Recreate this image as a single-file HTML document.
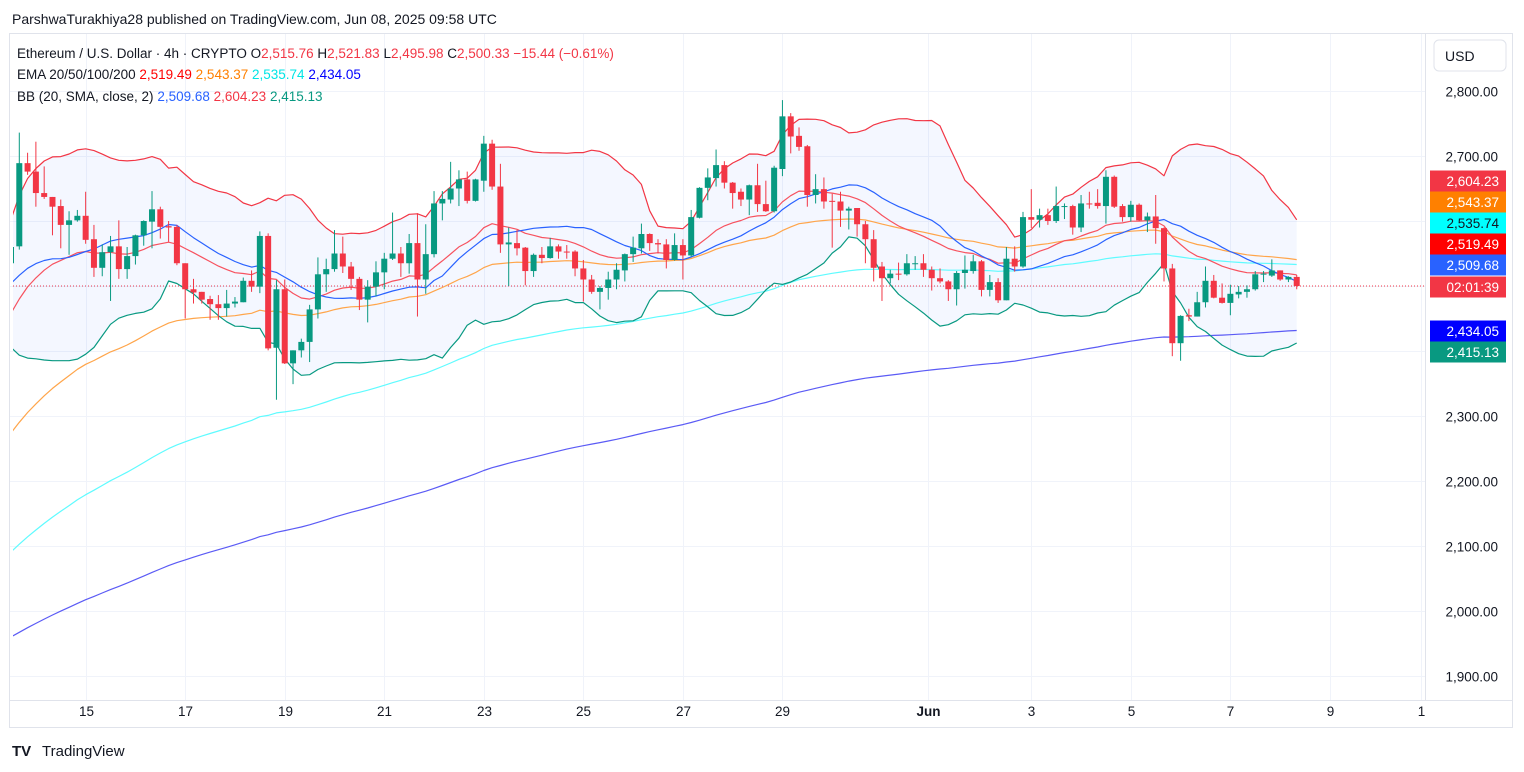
<!DOCTYPE html>
<html><head><meta charset="utf-8">
<style>
html,body{margin:0;padding:0;background:#fff;width:1524px;height:772px;overflow:hidden;font-family:"Liberation Sans",sans-serif;}
svg text{font-family:"Liberation Sans",sans-serif;}
</style></head>
<body>
<svg id="chart" width="1524" height="772" viewBox="0 0 1524 772" xmlns="http://www.w3.org/2000/svg">
  <text x="12" y="24" font-size="14" fill="#131722">ParshwaTurakhiya28 published on TradingView.com, Jun 08, 2025 09:58 UTC</text>
  <rect x="9.5" y="33.5" width="1503" height="694" fill="none" stroke="#e0e3eb"/>
  <g id="grid"></g>
  <g id="plot" clip-path="url(#clipP)"></g>
  <defs><clipPath id="clipP"><rect x="13" y="34" width="1412" height="666"/></clipPath></defs>
  <line x1="1425.5" y1="34" x2="1425.5" y2="700" stroke="#e0e3eb"/>
  <line x1="10" y1="700.5" x2="1512" y2="700.5" stroke="#e0e3eb"/>
  <g id="yaxis"></g>
  <g id="xaxis"></g>
  <g id="labels"></g>
  <g>
    <rect x="1434" y="40" width="72" height="31" rx="5" fill="#fff" stroke="#e0e3eb"/>
    <text x="1445" y="61" font-size="14" fill="#131722">USD</text>
  </g>
  <g font-size="13.5">
    <text x="17" y="58" fill="#131722">Ethereum / U.S. Dollar · 4h · CRYPTO  O<tspan fill="#f23645">2,515.76</tspan>  H<tspan fill="#f23645">2,521.83</tspan>  L<tspan fill="#f23645">2,495.98</tspan>  C<tspan fill="#f23645">2,500.33</tspan>  <tspan fill="#f23645">−15.44 (−0.61%)</tspan></text>
    <text x="17" y="79" fill="#131722">EMA 20/50/100/200  <tspan fill="#ff0000">2,519.49</tspan>  <tspan fill="#ff8000">2,543.37</tspan>  <tspan fill="#00e5e5">2,535.74</tspan>  <tspan fill="#0000ff">2,434.05</tspan></text>
    <text x="17" y="101" fill="#131722">BB (20, SMA, close, 2)  <tspan fill="#2962ff">2,509.68</tspan>  <tspan fill="#f23645">2,604.23</tspan>  <tspan fill="#089981">2,415.13</tspan></text>
  </g>
  <g>
    <text x="12" y="756" font-size="15" font-weight="bold" fill="#131722">TV</text>
    <text x="42" y="756" font-size="15" fill="#131722">TradingView</text>
  </g>
</svg>
<script>
const opens=[2535,2561,2689,2676,2643,2637,2623,2594,2601,2608,2572,2528,2552,2561,2526,2546,2578,2599,2618,2592,2591,2535,2495,2491,2480,2472,2466,2473,2475,2508,2499,2577,2405,2495,2381,2401,2414,2464,2518,2526,2550,2530,2511,2479,2499,2521,2542,2550,2535,2566,2510,2549,2627,2633,2650,2664,2631,2662,2719,2653,2564,2566,2559,2523,2548,2543,2561,2553,2553,2527,2510,2491,2497,2510,2524,2549,2558,2580,2566,2564,2540,2563,2547,2605,2651,2666,2686,2659,2645,2633,2655,2626,2615,2680,2761,2731,2715,2640,2649,2631,2630,2616,2620,2595,2572,2530,2512,2519,2518,2534,2535,2525,2512,2507,2495,2520,2523,2538,2494,2506,2478,2542,2530,2606,2602,2609,2600,2622,2623,2590,2627,2628,2623,2668,2623,2606,2625,2601,2607,2589,2527,2412,2455,2453,2475,2508,2482,2474,2487,2491,2495,2518,2516,2524,2510,2514];
const highs=[2580,2736,2705,2722,2684,2637,2633,2615,2617,2645,2594,2564,2577,2601,2560,2579,2601,2646,2622,2600,2594,2535,2511,2491,2485,2486,2494,2483,2513,2524,2584,2581,2509,2510,2401,2419,2471,2544,2542,2586,2576,2537,2514,2509,2538,2551,2613,2560,2580,2612,2595,2646,2646,2691,2678,2676,2665,2731,2725,2688,2590,2586,2560,2550,2560,2574,2564,2563,2555,2540,2517,2500,2522,2535,2550,2576,2596,2581,2572,2572,2581,2572,2617,2652,2681,2710,2692,2660,2650,2656,2688,2662,2685,2786,2766,2744,2717,2672,2667,2642,2645,2622,2620,2600,2586,2537,2525,2536,2549,2546,2549,2530,2527,2509,2523,2547,2548,2540,2517,2512,2560,2561,2614,2649,2619,2619,2653,2627,2625,2640,2645,2649,2678,2670,2626,2631,2627,2613,2640,2590,2534,2455,2465,2491,2530,2517,2504,2502,2500,2501,2523,2523,2541,2524,2515,2517];
const lows=[2530,2556,2671,2622,2634,2578,2558,2548,2599,2565,2514,2515,2477,2511,2511,2533,2562,2558,2573,2568,2532,2450,2473,2473,2448,2448,2453,2467,2475,2491,2489,2401,2325,2380,2349,2390,2383,2450,2491,2522,2520,2494,2463,2444,2484,2495,2540,2514,2519,2453,2488,2544,2601,2627,2623,2627,2630,2645,2648,2551,2500,2547,2501,2514,2535,2542,2542,2542,2515,2476,2488,2464,2479,2495,2507,2537,2550,2554,2550,2527,2539,2510,2545,2604,2632,2653,2650,2619,2623,2609,2614,2614,2613,2669,2704,2708,2622,2627,2619,2559,2591,2587,2576,2535,2507,2477,2504,2509,2516,2525,2514,2493,2504,2477,2470,2496,2519,2484,2484,2474,2478,2522,2528,2589,2590,2594,2597,2603,2579,2583,2619,2619,2596,2620,2599,2599,2600,2583,2565,2507,2392,2385,2446,2453,2467,2481,2473,2455,2481,2482,2493,2506,2514,2508,2506,2495];
const closes=[2560,2689,2676,2643,2637,2622,2594,2601,2608,2571,2528,2552,2561,2526,2546,2578,2600,2618,2591,2590,2535,2495,2490,2479,2472,2466,2473,2476,2508,2499,2577,2404,2495,2381,2401,2414,2464,2518,2526,2550,2530,2511,2479,2499,2521,2542,2550,2535,2566,2510,2549,2627,2634,2650,2664,2631,2664,2719,2653,2564,2567,2558,2523,2548,2543,2561,2553,2552,2527,2510,2491,2497,2510,2525,2549,2559,2580,2566,2564,2540,2563,2547,2606,2651,2667,2686,2659,2643,2633,2655,2626,2615,2682,2761,2730,2714,2640,2649,2630,2630,2616,2619,2595,2572,2528,2512,2519,2518,2535,2535,2525,2512,2507,2495,2520,2525,2538,2494,2506,2478,2542,2530,2606,2602,2609,2600,2623,2623,2590,2627,2626,2623,2668,2622,2606,2625,2601,2607,2589,2527,2412,2454,2453,2475,2508,2482,2474,2488,2491,2495,2518,2519,2524,2510,2514,2500];
const priorCloses=[2440,2460,2500,2540,2570,2590,2560,2520,2480,2450,2430,2440,2470,2510,2540,2560,2530,2480,2450];
const emaPeriods=[20,50,100,200];
const emaSeeds=[2458,2274,2091,1960];
const priceTicks=[1900,2000,2100,2200,2300,2400,2500,2600,2700,2800];
const dayTicks=["15","17","19","21","23","25","27","29","Jun","3","5","7","9","1"];
const dayTickHours=[36,84,132,180,228,276,324,372,442,492,540,588,636,680];
const lastValues=[2604.23,2543.37,2535.74,2519.49,2509.68,2500.33,2434.05,2415.13];
const lastLabels=["2,604.23","2,543.37","2,535.74","2,519.49","2,509.68","02:01:39","2,434.05","2,415.13"];

const NS="http://www.w3.org/2000/svg";
const X0=11, DX=8.295;
function xs(i){return X0+i*DX;}
function xh(h){return X0+(h/4)*DX;}
function ys(p){return 91+(2800-p)*0.65;}
function mk(tag,attrs,parent){const e=document.createElementNS(NS,tag);for(const k in attrs)e.setAttribute(k,attrs[k]);parent.appendChild(e);return e;}
const grid=document.getElementById('grid'),plot=document.getElementById('plot'),yax=document.getElementById('yaxis'),xax=document.getElementById('xaxis'),lab=document.getElementById('labels');

priceTicks.forEach(p=>{
  const y=Math.round(ys(p))+0.5;
  const l=mk('line',{x1:10,x2:1425,y1:y,y2:y,stroke:'#f0f3fa'},grid);
  
  
  const t=mk('text',{x:1498,y:y+5,'text-anchor':'end','font-size':'13.5',fill:'#131722'},yax);
  t.textContent=p.toLocaleString('en-US',{minimumFractionDigits:2});
  
  
});
dayTicks.forEach((d,k)=>{
  const x=Math.round(xh(dayTickHours[k]))+0.5;
  if(x<1424){
    const l=mk('line',{x1:x,x2:x,y1:34,y2:700,stroke:'#f0f3fa'},grid);
    
    
  }
  const tx=Math.min(x,1424);
  const t=mk('text',{x:tx,y:716,'text-anchor':'middle','font-size':'13.5',fill:'#131722','font-weight':d==='Jun'?'bold':'normal'},xax);
  t.textContent=d;
  
  
});

// Bollinger bands
const all=priorCloses.concat(closes);
const bbU=[],bbM=[],bbL=[];
for(let i=0;i<closes.length;i++){
  const w=all.slice(i,i+20);
  const m=w.reduce((a,b)=>a+b,0)/20;
  const sd=Math.sqrt(w.reduce((a,b)=>a+(b-m)*(b-m),0)/20);
  bbM.push(m);bbU.push(m+2*sd);bbL.push(m-2*sd);
}
let fillD='M'+bbU.map((v,i)=>xs(i).toFixed(1)+','+ys(v).toFixed(1)).join('L');
for(let i=closes.length-1;i>=0;i--)fillD+='L'+xs(i).toFixed(1)+','+ys(bbL[i]).toFixed(1);
const bf=mk('path',{d:fillD+'Z',fill:'#2962ff','fill-opacity':'0.05'},plot);


function line(arr,color,name,w){
  const p=mk('path',{d:'M'+arr.map((v,i)=>xs(i).toFixed(1)+','+ys(v).toFixed(1)).join('L'),fill:'none',stroke:color,'stroke-width':w||1.2,'stroke-linejoin':'round'},plot);
  
  
}
// EMAs
const emaColors=['#f7525f','#ffa54a','#5ffbff','#5b5bf5'];
const emaNames=['ema-20','ema-50','ema-100','ema-200'];
const emaLines=emaPeriods.map((n,k)=>{
  const a=2/(n+1);let v=emaSeeds[k];const out=[v];
  for(let i=1;i<closes.length;i++){v=v+a*(closes[i]-v);out.push(v);}
  return out;
});
[3,2,1,0].forEach(k=>line(emaLines[k],emaColors[k],emaNames[k]));
line(bbU,'#f23645','bb-upper');
line(bbM,'#2962ff','bb-basis');
line(bbL,'#089981','bb-lower');

// candles
for(let i=0;i<closes.length;i++){
  const up=closes[i]>=opens[i];
  const c=up?'#089981':'#f23645';
  const x=xs(i);
  const g=mk('g',{},plot);
  
  
  mk('line',{x1:x,x2:x,y1:ys(highs[i]),y2:ys(lows[i]),stroke:c,'stroke-width':1},g);
  const top=ys(Math.max(opens[i],closes[i])),bot=ys(Math.min(opens[i],closes[i]));
  mk('rect',{x:x-3,y:top,width:6,height:Math.max(1,bot-top),fill:c},g);
}
// last price dotted line
const lp=ys(closes[closes.length-1]);
const dl=mk('line',{x1:13,x2:1425,y1:lp,y2:lp,stroke:'#f23645','stroke-dasharray':'1 2','stroke-width':1},grid);



// right labels
const lblBg=['#f23645','#ff8000','#00ffff','#ff0000','#2962ff','#f23645','#0000ff','#089981'];
const lblFg=['#fff','#fff','#131722','#fff','#fff','#fff','#fff','#fff'];
const lblY=[181,202,223,244,265,287,331,352];
lastValues.forEach((v,k)=>{
  const g=mk('g',{},lab);
  
  
  mk('rect',{x:1430,y:lblY[k]-10.5,width:76,height:21,fill:lblBg[k]},g);
  const t=mk('text',{x:1499,y:lblY[k]+5,'text-anchor':'end','font-size':'13.5',fill:lblFg[k]},g);
  t.textContent=lastLabels[k];
});
</script>
</body></html>
